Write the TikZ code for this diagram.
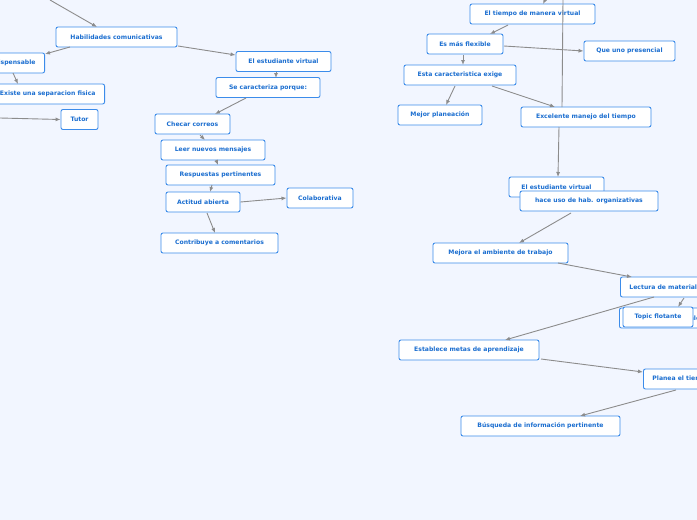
\documentclass[tikz,border=0pt]{standalone}
\usepackage{fontspec}
\usetikzlibrary{arrows.meta}
\setmainfont{DejaVu Sans}
\definecolor{bg}{HTML}{F2F6FF}
\definecolor{bd}{HTML}{3C8CEA}
\definecolor{tx}{HTML}{1B6ED0}
\definecolor{ar}{HTML}{8C8C8C}
\begin{document}
\begin{tikzpicture}[x=1pt,y=-1pt,
  box/.style={draw=bd,line width=0.9pt,fill=white,rounded corners=2pt,text=tx,font=\fontsize{6.1}{7}\selectfont\bfseries,minimum height=20pt,inner sep=0pt},
  lbox/.style={box,inner xsep=9pt,anchor=west},
  con/.style={draw=ar,line width=0.9pt,-{Latex[length=5pt,width=4pt]}}]
\fill[bg] (0,0) rectangle (697,520);
\useasboundingbox (0,0) rectangle (697,520);
\clip (0,0) rectangle (697,520);
% left
\node[box,minimum width=121] (hab) at (116.5,37) {Habilidades comunicativas};
\node[box,inner xsep=9pt,anchor=east] (ind) at (45,63) {Indispensable};
\node[box,inner xsep=9pt,anchor=east] (sep) at (105,94) {Existe una separacion fisica};
\node[box,minimum width=37] (tut) at (79.5,119.5) {Tutor};
\node[box,minimum width=95] (ev1) at (283.5,61.5) {El estudiante virtual};
\node[box,minimum width=104] (sec) at (268,87.5) {Se caracteriza porque:};
\node[box,minimum width=75] (che) at (192.5,124) {Checar correos};
\node[box,minimum width=104] (lee) at (213,150) {Leer nuevos mensajes};
\node[box,minimum width=109] (res) at (220.5,175) {Respuestas pertinentes};
\node[box,minimum width=74] (act) at (203,202) {Actitud abierta};
\node[box,minimum width=66] (col) at (320,198) {Colaborativa};
\node[box,minimum width=117] (con) at (219.5,243) {Contribuye a comentarios};
\coordinate (l0) at (50,0);
\coordinate (l1) at (0,118);
\draw[con] (l0) -- (97,27);
\draw[con] (70,47) -- (45,54);
\draw[con] (178,46) -- (ev1.west|-0,55);
\draw[con] (13,73) -- (18,84);
\draw[con] (l1) -- (tut.west);
\draw[con] (ev1.south-|276,0) -- (276,78);
\draw[con] (246,98) -- (215,114);
\draw[con] (200,135) -- (205,140);
\draw[con] (216,160) -- (218,165);
\draw[con] (212,185) -- (210,192);
\draw[con] (act.east) -- (col.west);
\draw[con] (207,213) -- (215,233);
% right
\node[box,minimum width=125] (tie) at (532.5,14) {El tiempo de manera virtual};
\node[box,minimum width=76] (esm) at (465,44) {Es más flexible};
\node[box,minimum width=91] (que) at (629.5,51) {Que uno presencial};
\node[box,minimum width=112] (est) at (460,75) {Esta caracteristica exige};
\node[box,minimum width=84] (mej) at (440,115) {Mejor planeación};
\node[box,minimum width=130] (exc) at (586,117) {Excelente manejo del tiempo};
\node[box,minimum width=95] (ev2) at (556.5,187) {El estudiante virtual};
\node[box,minimum width=138] (hac) at (589,201) {hace uso de hab. organizativas};
\node[box,minimum width=135] (amb) at (500.5,253) {Mejora el ambiente de trabajo};
\node[lbox] (lec) at (620,287) {Lectura de materiales};
\node[lbox] (hid) at (619,318) {Lectura de materiales};
\node[box,minimum width=70] (top) at (658,317) {Topic flotante};
\node[box,minimum width=140] (eme) at (469,350) {Establece metas de aprendizaje};
\node[lbox] (pla) at (643,379) {Planea el tiempo};
\node[box,minimum width=159] (bus) at (540.5,426) {Búsqueda de información pertinente};
\coordinate (r0) at (545,0);
\coordinate (r1) at (563,0);
\draw[con] (r0) -- (543,4);
\draw[draw=ar,line width=0.9pt] (r1) -- (562,107);
\draw[con] (559,127) -- (558,177);
\draw[con] (508,25) -- (490,34);
\draw[con] (504,46) -- (que.west);
\draw[con] (463,55) -- (463,65);
\draw[con] (455,86) -- (446,105);
\draw[con] (492,86) -- (555,107);
\draw[con] (571,213) -- (519,243);
\draw[con] (558,263) -- (632,277);
\draw[con] (654,297) -- (505,340);
\draw[con] (684,298) -- (678,307);
\draw[con] (541,359) -- (643,372);
\draw[con] (676,390) -- (580,416);
\end{tikzpicture}
\end{document}
